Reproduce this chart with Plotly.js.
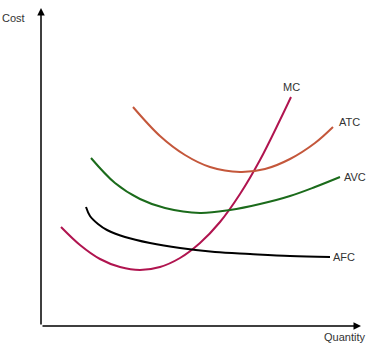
<!DOCTYPE html>
<html><head><meta charset="utf-8">
<script src="https://cdn.plot.ly/plotly-3.0.1.min.js"></script>
<style>html,body{margin:0;padding:0;background:#fff}#chart{width:381px;height:348px}</style>
</head><body><div id="chart"></div>
<script>
// Quantity / cost values (origin at the axes' corner)
const mcQ  = [20, 39, 59, 79, 99, 119, 139, 159, 179, 199, 219, 239, 250];
const mcC  = [99, 81, 67, 59, 56, 59, 68, 83, 104, 132, 166, 206, 229];
const atcQ = [92, 119, 144, 169, 199, 224, 249, 274, 292];
const atcC = [219, 190, 171, 159, 154, 157, 167, 183, 199];
const avcQ = [50, 74, 99, 124, 159, 189, 219, 249, 274, 299];
const avcC = [168, 143, 127, 118, 113, 116, 122, 130, 139, 149];
const afcQ = [45, 49, 57, 66, 84, 109, 139, 174, 209, 249, 289];
const afcC = [119, 110, 102, 96, 89, 83, 78, 74, 72, 70, 69];
const names = ["MC", "ATC", "AVC", "AFC"];
const colors = ["#b0144f", "#c4573b", "#1b6b1b", "#000000"];

const series = [[mcQ, mcC], [atcQ, atcC], [avcQ, avcC], [afcQ, afcC]];
const traces = series.map((s, i) => ({
  x: s[0], y: s[1], mode: "lines", type: "scatter", name: names[i],
  line: {color: colors[i], width: 2, shape: "spline", smoothing: 1},
  hoverinfo: "skip"
}));

const font = {family: "Liberation Sans, Arial, sans-serif", size: 11, color: "#333"};
const labelAnn = [
  {x: 250, y: 239, text: "MC", xanchor: "center", yanchor: "middle"},
  {x: 296, y: 204, text: "ATC", xanchor: "left", yanchor: "middle"},
  {x: 301, y: 149, text: "AVC", xanchor: "left", yanchor: "middle"},
  {x: 290, y: 69, text: "AFC", xanchor: "left", yanchor: "middle"},
  {x: -14, y: 308, text: "Cost", xanchor: "right", yanchor: "middle"},
  {x: 326, y: -11, text: "Quantity", xanchor: "right", yanchor: "middle"}
].map(a => Object.assign({xref: "x", yref: "y", showarrow: false, font: font}, a));

const axisAnn = [
  {x: 0, y: 318, ax: 0, ay: 0},
  {x: 320, y: 0, ax: 0, ay: 0}
].map(a => Object.assign({xref: "x", yref: "y", axref: "x", ayref: "y", text: "",
  showarrow: true, arrowhead: 2, arrowsize: 1, arrowwidth: 1.5, arrowcolor: "#000", standoff: 0, startstandoff: 0}, a));

const layout = {
  width: 381, height: 348,
  margin: {l: 0, r: 0, t: 0, b: 0},
  paper_bgcolor: "#fff", plot_bgcolor: "#fff",
  showlegend: false,
  xaxis: {range: [-41, 340], visible: false, fixedrange: true},
  yaxis: {range: [-22, 326], visible: false, fixedrange: true},
  annotations: axisAnn.concat(labelAnn)
};
Plotly.newPlot("chart", traces, layout, {displayModeBar: false, staticPlot: true});
</script></body></html>
